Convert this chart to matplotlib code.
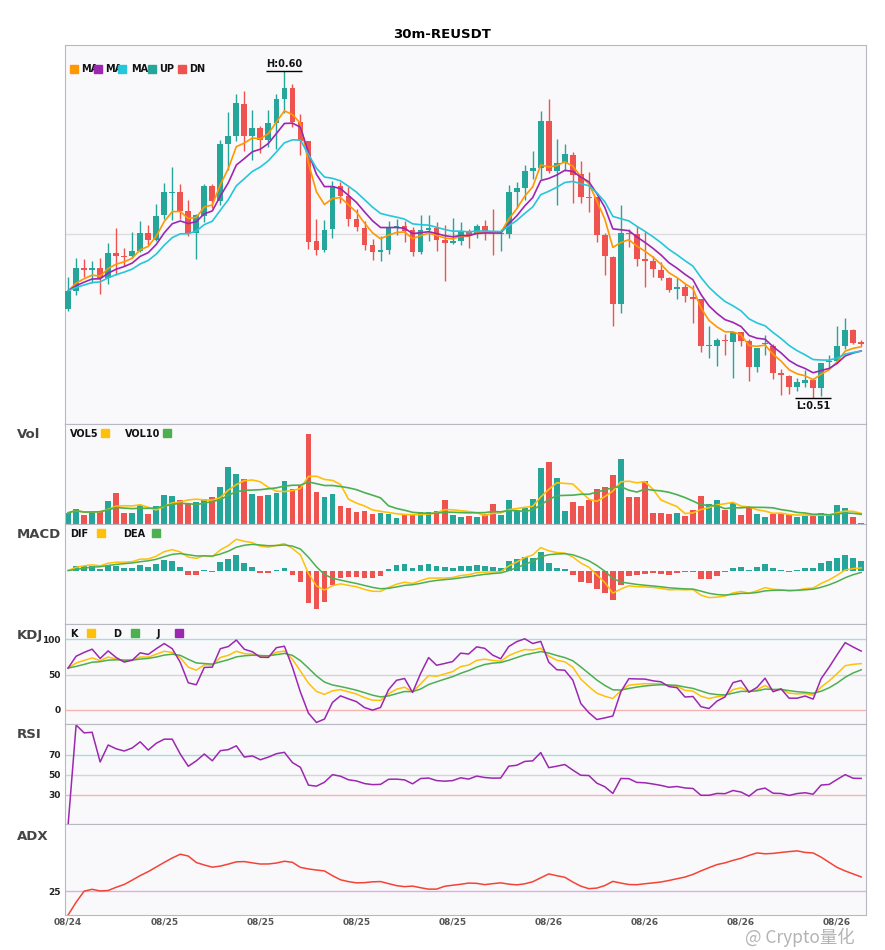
import numpy as np
import pandas as pd
import matplotlib
matplotlib.use('Agg')
import matplotlib.pyplot as plt
from matplotlib.patches import Rectangle

plt.rcParams['font.family'] = ['DejaVu Sans']
plt.rcParams['font.weight'] = 'bold'

# 30m candles
opens = [0.5345, 0.5395, 0.5458, 0.5453, 0.5458, 0.5430, 0.5499, 0.5490, 0.5491, 0.5506,
         0.5555, 0.5536, 0.5604, 0.5665, 0.5668, 0.5615, 0.5556, 0.5602, 0.5684, 0.5643,
         0.5800, 0.5823, 0.5911, 0.5823, 0.5845, 0.5811, 0.5858, 0.5925, 0.5955, 0.5861,
         0.5809, 0.5533, 0.5508, 0.5566, 0.5684, 0.5657, 0.5593, 0.5569, 0.5522, 0.5503,
         0.5508, 0.5569, 0.5574, 0.5563, 0.5502, 0.5563, 0.5569, 0.5535, 0.5527, 0.5533,
         0.5560, 0.5552, 0.5574, 0.5556, 0.5552, 0.5552, 0.5668, 0.5679, 0.5726, 0.5734,
         0.5864, 0.5726, 0.5748, 0.5770, 0.5718, 0.5654, 0.5654, 0.5549, 0.5489, 0.5359,
         0.5555, 0.5552, 0.5483, 0.5477, 0.5453, 0.5430, 0.5399, 0.5405, 0.5378, 0.5372,
         0.5241, 0.5243, 0.5259, 0.5254, 0.5281, 0.5256, 0.5185, 0.5248, 0.5243, 0.5168,
         0.5160, 0.5129, 0.5141, 0.5149, 0.5127, 0.5197, 0.5201, 0.5243, 0.5287, 0.5251]
highs = [0.5434, 0.5486, 0.5483, 0.5477, 0.5486, 0.5527, 0.5569, 0.5513, 0.5558, 0.5587,
         0.5576, 0.5634, 0.5693, 0.5737, 0.5690, 0.5646, 0.5608, 0.5689, 0.5690, 0.5813,
         0.5889, 0.5938, 0.5947, 0.5894, 0.5851, 0.5894, 0.5938, 0.6002, 0.5966, 0.5883,
         0.5810, 0.5593, 0.5591, 0.5698, 0.5695, 0.5682, 0.5621, 0.5588, 0.5538, 0.5546,
         0.5588, 0.5593, 0.5588, 0.5571, 0.5604, 0.5604, 0.5585, 0.5577, 0.5596, 0.5585,
         0.5566, 0.5580, 0.5591, 0.5621, 0.5566, 0.5687, 0.5696, 0.5742, 0.5781, 0.5892,
         0.5925, 0.5814, 0.5800, 0.5778, 0.5753, 0.5723, 0.5654, 0.5555, 0.5491, 0.5632,
         0.5566, 0.5574, 0.5560, 0.5491, 0.5475, 0.5432, 0.5430, 0.5414, 0.5411, 0.5372,
         0.5298, 0.5265, 0.5276, 0.5281, 0.5281, 0.5262, 0.5237, 0.5273, 0.5248, 0.5179,
         0.5163, 0.5154, 0.5176, 0.5154, 0.5196, 0.5218, 0.5298, 0.5320, 0.5290, 0.5259]
lows = [0.5338, 0.5384, 0.5433, 0.5416, 0.5386, 0.5415, 0.5439, 0.5463, 0.5485, 0.5501,
        0.5522, 0.5533, 0.5593, 0.5591, 0.5593, 0.5547, 0.5483, 0.5586, 0.5623, 0.5632,
        0.5729, 0.5809, 0.5781, 0.5756, 0.5775, 0.5792, 0.5787, 0.5886, 0.5847, 0.5770,
        0.5511, 0.5494, 0.5502, 0.5541, 0.5637, 0.5574, 0.5560, 0.5508, 0.5480, 0.5477,
        0.5497, 0.5549, 0.5530, 0.5491, 0.5497, 0.5533, 0.5505, 0.5422, 0.5524, 0.5522,
        0.5513, 0.5541, 0.5535, 0.5494, 0.5505, 0.5541, 0.5624, 0.5646, 0.5704, 0.5704,
        0.5720, 0.5632, 0.5726, 0.5638, 0.5638, 0.5613, 0.5530, 0.5439, 0.5298, 0.5334,
        0.5516, 0.5464, 0.5406, 0.5433, 0.5425, 0.5392, 0.5372, 0.5364, 0.5306, 0.5226,
        0.5209, 0.5187, 0.5218, 0.5154, 0.5243, 0.5146, 0.5171, 0.5218, 0.5152, 0.5107,
        0.5110, 0.5118, 0.5129, 0.5099, 0.5105, 0.5179, 0.5196, 0.5234, 0.5248, 0.5243]
closes = [0.5395, 0.5458, 0.5453, 0.5458, 0.5430, 0.5499, 0.5492, 0.5488, 0.5505, 0.5555,
          0.5536, 0.5602, 0.5668, 0.5668, 0.5615, 0.5556, 0.5604, 0.5684, 0.5643, 0.5800,
          0.5823, 0.5914, 0.5823, 0.5845, 0.5811, 0.5858, 0.5925, 0.5955, 0.5861, 0.5809,
          0.5530, 0.5508, 0.5563, 0.5684, 0.5657, 0.5593, 0.5571, 0.5522, 0.5502, 0.5505,
          0.5569, 0.5571, 0.5560, 0.5502, 0.5563, 0.5569, 0.5535, 0.5527, 0.5533, 0.5560,
          0.5546, 0.5574, 0.5560, 0.5554, 0.5555, 0.5668, 0.5679, 0.5726, 0.5734, 0.5864,
          0.5726, 0.5748, 0.5773, 0.5715, 0.5654, 0.5651, 0.5549, 0.5491, 0.5359, 0.5555,
          0.5552, 0.5483, 0.5477, 0.5455, 0.5430, 0.5397, 0.5405, 0.5381, 0.5372, 0.5243,
          0.5243, 0.5259, 0.5255, 0.5281, 0.5256, 0.5185, 0.5237, 0.5252, 0.5168, 0.5163,
          0.5129, 0.5143, 0.5149, 0.5127, 0.5196, 0.5201, 0.5243, 0.5287, 0.5251, 0.5249]
volumes = [11.3, 15.3, 9.3, 12.3, 13.3, 23.3, 31.3, 11.3, 11.3, 19.3,
           10.3, 18.3, 29.3, 28.3, 24.3, 20.3, 22.3, 25.3, 27.3, 37.3,
           57.3, 50.3, 45.3, 30.3, 28.3, 29.3, 31.3, 43.3, 35.3, 38.3,
           90.3, 32.3, 27.3, 30.3, 18.3, 16.3, 12.3, 13.3, 10.3, 11.3,
           10.3, 6.3, 9.3, 9.3, 12.3, 12.3, 13.3, 24.3, 9.3, 7.3,
           8.3, 7.3, 10.3, 20.3, 9.3, 24.3, 13.3, 16.3, 25.3, 56.3,
           62.3, 46.3, 13.3, 22.3, 18.3, 24.3, 35.3, 37.3, 49.3, 65.3,
           27.3, 27.3, 43.3, 11.3, 11.3, 10.3, 11.3, 8.3, 14.3, 28.3,
           20.3, 24.3, 14.3, 21.3, 9.3, 16.3, 10.3, 7.3, 10.3, 10.3,
           9.3, 7.3, 8.3, 8.3, 11.3, 9.3, 19.3, 16.3, 7.3, 1.0]
tick_pos = [0, 12, 24, 36, 48, 60, 72, 84, 96]
tick_labels = ['08/24', '08/25', '08/25', '08/25', '08/25', '08/26', '08/26', '08/26', '08/26']

UP, DN = '#26A69A', '#EF5350'
BG, SPINE = '#f9f9fb', '#b8b8c0'

df = pd.DataFrame({'o': opens, 'h': highs, 'l': lows, 'c': closes, 'v': volumes})
x = np.arange(len(df))
cols = np.where(df.c >= df.o, UP, DN)

# indicators
ma_fast = df.c.ewm(span=5, adjust=False).mean()
ma_mid = df.c.ewm(span=8, adjust=False).mean()
ma_slow = df.c.ewm(span=13, adjust=False).mean()
vol5 = df.v.rolling(5, min_periods=1).mean()
vol10 = df.v.rolling(10, min_periods=1).mean()

dif = df.c.ewm(span=6, adjust=False).mean() - df.c.ewm(span=13, adjust=False).mean()
dea = dif.ewm(span=5, adjust=False).mean()
hist = 2 * (dif - dea)

llv = df.l.rolling(9, min_periods=1).min()
hhv = df.h.rolling(9, min_periods=1).max()
rsv = (df.c - llv) / (hhv - llv) * 100
k = rsv.ewm(com=2, adjust=False).mean()
d = k.ewm(com=2, adjust=False).mean()
j = 3 * k - 2 * d

chg = df.c.diff().fillna(0)
ag = chg.clip(lower=0).ewm(alpha=1 / 14, adjust=False).mean()
al = (-chg.clip(upper=0)).ewm(alpha=1 / 14, adjust=False).mean()
rsi = (100 * ag / (ag + al)).fillna(0)

up_m = df.h.diff()
dn_m = -df.l.diff()
pdm = pd.Series(np.where((up_m > dn_m) & (up_m > 0), up_m, 0.0))
mdm = pd.Series(np.where((dn_m > up_m) & (dn_m > 0), dn_m, 0.0))
prev_c = df.c.shift(1)
tr = pd.concat([df.h - df.l, (df.h - prev_c).abs(), (df.l - prev_c).abs()], axis=1).max(axis=1)
atr = tr.ewm(span=14, adjust=False).mean()
pdi = 100 * pdm.ewm(span=14, adjust=False).mean() / atr
mdi = 100 * mdm.ewm(span=14, adjust=False).mean() / atr
dx = (100 * (pdi - mdi).abs() / (pdi + mdi)).fillna(0)
adx = dx.ewm(span=14, adjust=False).mean()

W, H = 885, 950
fig = plt.figure(figsize=(W / 100, H / 100), dpi=100)
gs = fig.add_gridspec(6, 1, left=65.3 / W, right=866 / W, top=1 - 45 / H, bottom=1 - 915 / H,
                      hspace=0, height_ratios=[379, 100, 100, 100, 100, 91])
axes = [fig.add_subplot(gs[i]) for i in range(6)]
ax, axv, axm, axk, axr, axa = axes
for a in axes:
    a.set_facecolor(BG)
    a.set_xlim(-0.35, 99.6)
    a.tick_params(length=0, labelsize=6.5, colors='#222')
    for s in a.spines.values():
        s.set_color(SPINE)
    a.set_xticks([])
    a.set_yticks([])

# main candles
ax.vlines(x, df.l, df.h, colors=cols, lw=1, zorder=2)
rng = df.h.max() - df.l.min()
body = np.maximum((df.c - df.o).abs(), rng * 0.004)
ax.bar(x, body, bottom=np.minimum(df.o, df.c), width=0.72, color=cols, zorder=3)
ax.plot(x, ma_fast, color='#FF9800', lw=1.2, zorder=4)
ax.plot(x, ma_mid, color='#9C27B0', lw=1.2, zorder=4)
ax.plot(x, ma_slow, color='#26C6DA', lw=1.2, zorder=4)
lo_y, hi_y = df.l.min() - 0.08 * rng, df.h.max() + 0.08 * rng
ax.set_ylim(lo_y, hi_y)
ax.axhline((lo_y + hi_y) / 2, color='#dddddd', lw=1, zorder=1)

ih, il = int(df.h.idxmax()), int(df.l.idxmin())
ax.hlines(df.h[ih], ih - 2.25, ih + 2.25, color='black', lw=1, zorder=5)
ax.annotate('H:%.2f' % df.h[ih], (ih, df.h[ih]), xytext=(0, 1.5), textcoords='offset points',
            ha='center', va='bottom', fontsize=7, color='#111')
ax.hlines(df.l[il], il - 2.25, il + 2.25, color='black', lw=1, zorder=5)
ax.annotate('L:%.2f' % df.l[il], (il, df.l[il]), xytext=(0, -2), textcoords='offset points',
            ha='center', va='top', fontsize=7, color='#111')

# volume
axv.bar(x, df.v, width=0.72, color=cols)
axv.plot(x, vol5, color='#FFC107', lw=1.2)
axv.plot(x, vol10, color='#4CAF50', lw=1.2)
axv.set_ylim(0, df.v.max() * 1.11)

# macd
axm.bar(x, hist, width=0.72, color=np.where(hist >= 0, UP, DN))
axm.plot(x, dif, color='#FFC107', lw=1.1)
axm.plot(x, dea, color='#4CAF50', lw=1.1)
mlo = min(hist.min(), dif.min(), dea.min())
mhi = max(hist.max(), dif.max(), dea.max())
axm.set_ylim(mlo - 0.22 * (mhi - mlo), mhi + 0.22 * (mhi - mlo))

# kdj
for lvl, c in [(100, '#a9dcd3'), (50, '#d4d4d8'), (0, '#f6b3b3')]:
    axk.axhline(lvl, color=c, lw=1, zorder=1)
axk.plot(x, k, color='#FFC107', lw=1.1)
axk.plot(x, d, color='#4CAF50', lw=1.1)
axk.plot(x, j, color='#9C27B0', lw=1.1)
axk.set_ylim(-20, 122)
axk.set_yticks([0, 50, 100])

# rsi
for lvl, c in [(70, '#a9dcd3'), (50, '#d4d4d8'), (30, '#f6b3b3')]:
    axr.axhline(lvl, color=c, lw=1, zorder=1)
axr.plot(x, rsi, color='#9C27B0', lw=1.1)
axr.set_ylim(1, 101)
axr.set_yticks([30, 50, 70])

# adx
axa.axhline(25, color='#dcaee3', lw=1, zorder=1)
axa.plot(x, adx, color='#F44336', lw=1.1)
axa.set_ylim(0, 95)
axa.set_yticks([25])
axa.set_xticks(tick_pos)
axa.set_xticklabels(tick_labels, color='#555', fontsize=6.5)
axa.tick_params(axis='x', pad=2)


def fx(px):
    return px / W


def fy(py):
    return 1 - py / H


def square(px, py, color):
    fig.add_artist(Rectangle((fx(px), fy(py + 4)), 8 / W, 8 / H, transform=fig.transFigure,
                             color=color, zorder=5))


def label(px, py, s, size=7):
    fig.text(fx(px), fy(py), s, fontsize=size, va='center', ha='left', color='#111')


fig.suptitle('30m-REUSDT', x=0.5, y=fy(34), va='center', fontsize=9.5, fontweight='bold')

# legends
for sx, tx, s, c in [(70, 81, 'MA', '#FF9800'), (94, 105, 'MA', '#9C27B0'),
                     (118, 131, 'MA', '#26C6DA'), (148, 159, 'UP', UP), (178, 189, 'DN', DN)]:
    square(sx, 69, c)
    label(tx, 69, s)
for tx, sx, s, c in [(70, 101, 'VOL5', '#FFC107'), (125, 163, 'VOL10', '#4CAF50')]:
    label(tx, 434, s)
    square(sx, 433, c)
for tx, sx, s, c in [(70, 97, 'DIF', '#FFC107'), (123, 152, 'DEA', '#4CAF50')]:
    label(tx, 534, s)
    square(sx, 533, c)
for tx, sx, s, c in [(70, 87, 'K', '#FFC107'), (113, 131, 'D', '#4CAF50'), (157, 175, 'J', '#9C27B0')]:
    label(tx, 634, s)
    square(sx, 633, c)

# panel names
for py, s in [(435, 'Vol'), (535, 'MACD'), (635, 'KDJ'), (735, 'RSI'), (836, 'ADX')]:
    fig.text(fx(17), fy(py), s, fontsize=9.5, va='center', ha='left', color='#444')

fig.text(fx(745), fy(937), '@ Crypto量化', fontsize=12.5, va='center', ha='left', color='#9a9a9a',
         alpha=0.75, fontweight='normal', family=['Noto Sans CJK SC', 'DejaVu Sans'])

fig.savefig('out.png', dpi=100, facecolor='white')
